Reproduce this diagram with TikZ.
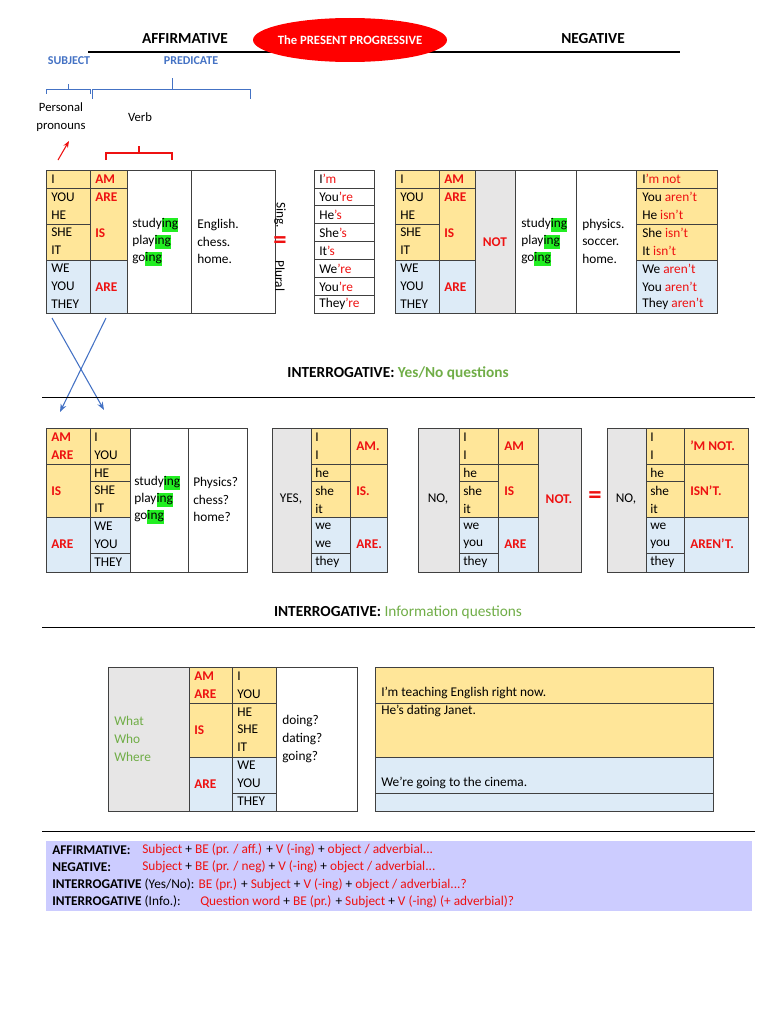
\documentclass[tikz,border=0pt]{standalone}
\usepackage{fontspec}
\setmainfont{Carlito}
\usetikzlibrary{arrows.meta}
\definecolor{yel}{HTML}{FFE699}
\definecolor{blu}{HTML}{DDEBF7}
\definecolor{gry}{HTML}{E7E6E6}
\definecolor{hlg}{HTML}{22EE22}
\definecolor{rd}{HTML}{EE1111}
\definecolor{lbl}{HTML}{4472C4}
\definecolor{grn}{HTML}{70AD47}
\definecolor{lav}{HTML}{CCCCFF}
\newcommand\R[1]{\textcolor{rd}{#1}}
\newcommand\RB[1]{\textcolor{rd}{\bfseries #1}}
\newcommand\hl[1]{{\setlength\fboxsep{0pt}\colorbox{hlg}{\strut #1}}}
\begin{document}
\begin{tikzpicture}[x=0.75pt,y=-0.75pt,
  tx/.style={anchor=west,inner sep=0pt,font=\fontsize{10}{11}\selectfont},
  tc/.style={inner sep=0pt,font=\fontsize{10}{11}\selectfont},
  ln/.style={draw=black!75,line width=0.6pt},
  hd/.style={inner sep=0pt,font=\fontsize{11.5}{13}\selectfont\bfseries}]
\useasboundingbox (0,0) rectangle (768,1024);
% header
\draw[line width=0.8pt] (88,52) -- (680,52);
\node[hd] (aff) at (185,39) {AFFIRMATIVE};
\node[hd] (neg) at (593,39) {NEGATIVE};
\fill[red] (350,40) ellipse (97 and 22);
\node[tc,text=white,font=\fontsize{9.5}{11}\selectfont\bfseries] (title) at (350,40) {The PRESENT PROGRESSIVE};
\node[tc,text=lbl,font=\fontsize{9}{11}\selectfont\bfseries] (subj) at (69,61) {SUBJECT};
\node[tc,text=lbl,font=\fontsize{9}{11}\selectfont\bfseries] (pred) at (191,61) {PREDICATE};
\draw[lbl,line width=0.7pt] (46,94) -- (46,89) -- (90,89) -- (90,94) (68,89) -- (68,84);
\draw[lbl,line width=0.7pt] (92,99) -- (92,89) -- (250,89) -- (250,99) (172,89) -- (172,78);
\node[tc,align=center,font=\fontsize{9.5}{14}\selectfont] (pp) at (61,117) {Personal\\pronouns};
\node[tc,font=\fontsize{9.5}{11}\selectfont] (verb) at (140,117) {Verb};
\coordinate (ra) at (58,160);
\draw[rd,line width=0.8pt,-{Stealth[length=5pt]}] (ra) -- (69,141);
\draw[rd,line width=0.9pt] (106,160) -- (106,153) -- (172,153) -- (172,160) (139,153) -- (139,146);

% ---- Table 1 affirmative
\fill[yel] (46,170) rectangle (127,260);
\fill[blu] (46,260) rectangle (127,313);
\draw[ln] (46,170) rectangle (275,313);
\draw[ln] (90,170)--(90,313) (127,170)--(127,313) (191,170)--(191,313);
\draw[ln] (46,188)--(127,188) (46,224)--(90,224) (46,260)--(127,260);
\foreach \t [count=\i from 0] in {I,YOU,HE,SHE,IT,WE,YOU,THEY}
  \node[tx] at (51,179+17.9*\i) {\t};
\node[tx] at (95,179) {\RB{AM}};
\node[tx] at (95,197) {\RB{ARE}};
\node[tx] at (95,233) {\RB{IS}};
\node[tx] at (95,287) {\RB{ARE}};
\node[tx] at (132,225) {study\hl{ing}};
\node[tx] at (132,242) {play\hl{ing}};
\node[tx] at (132,259) {go\hl{ing}};
\node[tx] at (197,225) {English.};
\node[tx] at (197,242) {chess.};
\node[tx] at (197,259) {home.};
\node[tc,rotate=-90] (sing) at (280,215) {Sing.};
\node[tc,font=\fontsize{20}{20}\selectfont\bfseries,text=rd] (eq1) at (280,243) {=};
\node[tc,rotate=-90] (plur) at (280,276) {Plural};
\draw[ln] (314,170) rectangle (374,313);
\foreach \i in {1,...,7} \draw[ln] (314,170+17.9*\i) -- (374,170+17.9*\i);
\foreach \t [count=\i from 0] in {I\R{'m},You\R{'re},He\R{'s},She\R{'s},It\R{'s},We\R{'re},You\R{'re},They\R{'re}}
  \node[tx] at (319,179+17.9*\i) {\t};

% ---- Negative table
\fill[yel] (395,170) rectangle (475,260);
\fill[blu] (395,260) rectangle (475,313);
\fill[gry] (475,170) rectangle (515,313);
\fill[yel] (636,170) rectangle (717,260);
\fill[blu] (636,260) rectangle (717,313);
\draw[ln] (395,170) rectangle (717,313);
\draw[ln] (439,170)--(439,313) (475,170)--(475,313) (515,170)--(515,313) (576,170)--(576,313) (636,170)--(636,313);
\draw[ln] (395,188)--(475,188) (395,224)--(439,224) (395,260)--(475,260);
\draw[ln] (636,188)--(717,188) (636,224)--(717,224) (636,260)--(717,260);
\foreach \t [count=\i from 0] in {I,YOU,HE,SHE,IT,WE,YOU,THEY}
  \node[tx] at (400,179+17.9*\i) {\t};
\node[tx] at (444,179) {\RB{AM}};
\node[tx] at (444,197) {\RB{ARE}};
\node[tx] at (444,233) {\RB{IS}};
\node[tx] at (444,287) {\RB{ARE}};
\node[tc] at (495,242) {\RB{NOT}};
\node[tx] at (521,225) {study\hl{ing}};
\node[tx] at (521,242) {play\hl{ing}};
\node[tx] at (521,259) {go\hl{ing}};
\node[tx] at (582,225) {physics.};
\node[tx] at (582,242) {soccer.};
\node[tx] at (582,259) {home.};
\foreach \t [count=\i from 0] in {I\R{'m not},You \R{aren't},He \R{isn't},She \R{isn't},It \R{isn't},We \R{aren't},You \R{aren't},They \R{aren't}}
  \node[tx] at (642,179+17.9*\i) {\t};

% crossing arrows
\coordinate (c1) at (52,318); \coordinate (c2) at (104,410);
\coordinate (c3) at (106,318); \coordinate (c4) at (60,412);
\draw[lbl,line width=0.8pt,-{Stealth[length=6pt]}] (c1) -- (c2);
\draw[lbl,line width=0.8pt,-{Stealth[length=6pt]}] (c3) -- (c4);

% Interrogative yes/no
\node[hd] (iyn) at (398,373) {INTERROGATIVE: \textcolor{grn}{Yes/No questions}};
\draw[line width=0.6pt] (42,397) -- (755,397);

% Table A
\fill[yel] (46,428) rectangle (130,517);
\fill[blu] (46,517) rectangle (130,572);
\draw[ln] (46,428) rectangle (247,572);
\draw[ln] (90,428)--(90,572) (130,428)--(130,572) (188,428)--(188,572);
\draw[ln] (46,464)--(130,464) (46,517)--(130,517) (90,481)--(130,481) (90,553)--(130,553);
\node[tx] at (51,437) {\RB{AM}};
\node[tx] at (51,455) {\RB{ARE}};
\node[tx] at (51,491) {\RB{IS}};
\node[tx] at (51,544) {\RB{ARE}};
\foreach \t [count=\i from 0] in {I,YOU,HE,SHE,IT,WE,YOU,THEY}
  \node[tx] at (94,437+17.9*\i) {\t};
\node[tx] at (134,483) {study\hl{ing}};
\node[tx] at (134,500) {play\hl{ing}};
\node[tx] at (134,517) {go\hl{ing}};
\node[tx] at (193,483) {Physics?};
\node[tx] at (193,500) {chess?};
\node[tx] at (193,517) {home?};

% Table B
\fill[gry] (272,428) rectangle (311,572);
\fill[yel] (311,428) rectangle (387,517);
\fill[blu] (311,517) rectangle (387,572);
\draw[ln] (272,428) rectangle (387,572);
\draw[ln] (311,428)--(311,572) (350,428)--(350,572);
\draw[ln] (311,464)--(387,464) (311,517)--(387,517) (311,481)--(350,481) (311,553)--(350,553);
\node[tc] at (291,499) {YES,};
\foreach \t [count=\i from 0] in {I,I,he,she,it,we,we,they}
  \node[tx] at (315,437+17.9*\i) {\t};
\node[tx] at (356,446) {\RB{AM.}};
\node[tx] at (356,491) {\RB{IS.}};
\node[tx] at (356,544) {\RB{ARE.}};

% Table C
\fill[gry] (418,428) rectangle (459,572);
\fill[yel] (459,428) rectangle (538,517);
\fill[blu] (459,517) rectangle (538,572);
\fill[gry] (538,428) rectangle (581,572);
\draw[ln] (418,428) rectangle (581,572);
\draw[ln] (459,428)--(459,572) (498,428)--(498,572) (538,428)--(538,572);
\draw[ln] (459,464)--(538,464) (459,517)--(538,517) (459,481)--(498,481) (459,553)--(498,553);
\node[tc] at (438,499) {NO,};
\foreach \t [count=\i from 0] in {I,I,he,she,it,we,you,they}
  \node[tx] at (463,437+17.9*\i) {\t};
\node[tx] at (504,446) {\RB{AM}};
\node[tx] at (504,491) {\RB{IS}};
\node[tx] at (504,544) {\RB{ARE}};
\node[tc] at (559,499) {\RB{NOT.}};
\node[tc,font=\fontsize{20}{20}\selectfont\bfseries,text=rd] (eq2) at (595,498) {=};

% Table D
\fill[gry] (607,428) rectangle (646,572);
\fill[yel] (646,428) rectangle (748,517);
\fill[blu] (646,517) rectangle (748,572);
\draw[ln] (607,428) rectangle (748,572);
\draw[ln] (646,428)--(646,572) (684,428)--(684,572);
\draw[ln] (646,464)--(748,464) (646,517)--(748,517) (646,481)--(684,481) (646,553)--(684,553);
\node[tc] at (626,499) {NO,};
\foreach \t [count=\i from 0] in {I,I,he,she,it,we,you,they}
  \node[tx] at (650,437+17.9*\i) {\t};
\node[tx] at (690,446) {\RB{'M NOT.}};
\node[tx] at (690,491) {\RB{ISN'T.}};
\node[tx] at (690,544) {\RB{AREN'T.}};

% Interrogative info
\node[hd] (iinf) at (398,612) {INTERROGATIVE: \textcolor{grn}{\mdseries Information questions}};
\draw[line width=0.6pt] (42,627) -- (755,627);

% Table E
\fill[gry] (108,667) rectangle (189,811);
\fill[yel] (189,667) rectangle (276,757);
\fill[blu] (189,757) rectangle (276,811);
\draw[ln] (108,667) rectangle (357,811);
\draw[ln] (189,667)--(189,811) (232,667)--(232,811) (276,667)--(276,811);
\draw[ln] (189,703)--(276,703) (189,757)--(276,757) (232,793)--(276,793);
\node[tx,text=grn] at (114,721) {What};
\node[tx,text=grn] at (114,739) {Who};
\node[tx,text=grn] at (114,757) {Where};
\node[tx] at (194,676) {\RB{AM}};
\node[tx] at (194,694) {\RB{ARE}};
\node[tx] at (194,730) {\RB{IS}};
\node[tx] at (194,784) {\RB{ARE}};
\foreach \t [count=\i from 0] in {I,YOU,HE,SHE,IT,WE,YOU,THEY}
  \node[tx] at (237,676+17.9*\i) {\t};
\node[tx] at (282,721) {doing?};
\node[tx] at (282,739) {dating?};
\node[tx] at (282,757) {going?};

% Table F
\fill[yel] (375,667) rectangle (713,757);
\fill[blu] (375,757) rectangle (713,811);
\draw[ln] (375,667) rectangle (713,811);
\draw[ln] (375,703)--(713,703) (375,757)--(713,757) (375,793)--(713,793);
\node[tx] at (381,693) {I'm teaching English right now.};
\node[tx] at (381,711) {He's dating Janet.};
\node[tx] at (381,783) {We're going to the cinema.};

% bottom summary
\draw[line width=0.6pt] (42,831) -- (755,831);
\fill[lav] (46,841) rectangle (752,911);
\node[tx] at (52,850) {\bfseries AFFIRMATIVE:};
\node[tx] at (142,850) {\R{Subject} + \R{BE (pr. / aff.)} + \R{V (-ing)} + \R{object / adverbial...}};
\node[tx] at (52,867) {\bfseries NEGATIVE:};
\node[tx] at (142,867) {\R{Subject} + \R{BE (pr. / neg)} + \R{V (-ing)} + \R{object / adverbial...}};
\node[tx] at (52,885) {\textbf{INTERROGATIVE} (Yes/No): \R{BE (pr.)} + \R{Subject} + \R{V (-ing)} + \R{object / adverbial...?}};
\node[tx] at (52,902) {\textbf{INTERROGATIVE} (Info.):};
\node[tx] at (200,902) {\R{Question word} + \R{BE (pr.)} + \R{Subject} + \R{V (-ing)} \R{(+ adverbial)?}};
\end{tikzpicture}
\end{document}
